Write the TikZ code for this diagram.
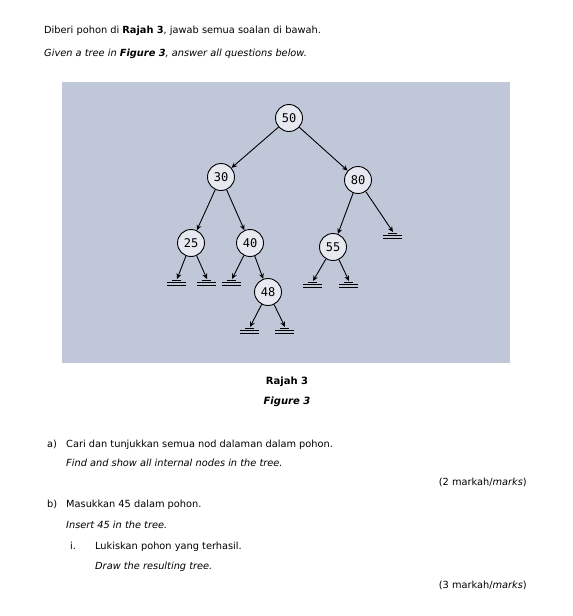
\documentclass[tikz,border=0pt]{standalone}
\usepackage{fontspec}
\setmainfont{DejaVu Sans}
\newfontfamily\numfont{DejaVu Sans Mono}
\usetikzlibrary{arrows.meta}
\definecolor{panel}{RGB}{192,199,216}
\definecolor{nodefill}{RGB}{230,233,240}
\tikzset{
  tnode/.style={circle,draw=black,fill=nodefill,line width=0.9pt,minimum size=27pt,inner sep=0pt,font=\numfont\fontsize{12}{12}\selectfont},
  edge/.style={line width=0.9pt,-{Stealth[length=5.5pt,width=5pt]}},
  txt/.style={anchor=base west,inner sep=0pt,font=\fontsize{9.8}{11}\selectfont},
  rtxt/.style={anchor=base east,inner sep=0pt,font=\fontsize{9.8}{11}\selectfont},
  ctxt/.style={anchor=base,inner sep=0pt,font=\fontsize{10}{11}\selectfont},
}
\newcommand{\groundsym}[1]{%
  \draw[line width=1pt] ([xshift=-5pt,yshift=-1pt]#1) -- ([xshift=4pt,yshift=-1pt]#1);
  \draw[line width=1pt] ([xshift=-10pt,yshift=-3.5pt]#1) -- ([xshift=9pt,yshift=-3.5pt]#1);
  \draw[line width=1pt] ([xshift=-10pt,yshift=-6pt]#1) -- ([xshift=9pt,yshift=-6pt]#1);}
\begin{document}
\begin{tikzpicture}[x=1pt,y=-1pt]
\useasboundingbox (0,0) rectangle (573,616);
\fill[white] (0,0) rectangle (573,616);
% header
\node[txt] (h1) at (44,33) {Diberi pohon di \textbf{Rajah 3}, jawab semua soalan di bawah.};
\node[txt] (h2) at (44,56) {\textit{Given a tree in \textbf{Figure 3}, answer all questions below.}};
% panel
\fill[panel] (62,82) rectangle (510,363);
% nodes
\node[tnode] (n50) at (289,118) {50};
\node[tnode] (n30) at (221,177) {30};
\node[tnode] (n80) at (358,180) {80};
\node[tnode] (n25) at (191,243) {25};
\node[tnode] (n40) at (250,243) {40};
\node[tnode] (n55) at (333,247) {55};
\node[tnode] (n48) at (268,292) {48};
% leaf coordinates
\coordinate (l25a) at (177,279);
\coordinate (l25b) at (207,279);
\coordinate (l40a) at (232,279);
\coordinate (l48a) at (250,327);
\coordinate (l48b) at (285,327);
\coordinate (l55a) at (313,281);
\coordinate (l55b) at (349,281);
\coordinate (l80b) at (393,232);
% edges
\draw[edge] (n50) -- (n30);
\draw[edge] (n50) -- (n80);
\draw[edge] (n30) -- (n25);
\draw[edge] (n30) -- (n40);
\draw[edge] (n80) -- (n55);
\draw[edge] (n80) -- (l80b);
\draw[edge] (n25) -- (l25a);
\draw[edge] (n25) -- (l25b);
\draw[edge] (n40) -- (l40a);
\draw[edge] (n40) -- (n48);
\draw[edge] (n48) -- (l48a);
\draw[edge] (n48) -- (l48b);
\draw[edge] (n55) -- (l55a);
\draw[edge] (n55) -- (l55b);
\groundsym{l25a}\groundsym{l25b}\groundsym{l40a}\groundsym{l48a}
\groundsym{l48b}\groundsym{l55a}\groundsym{l55b}\groundsym{l80b}
% caption
\node[ctxt] (cap1) at (287,384) {\textbf{Rajah 3}};
\node[ctxt] (cap2) at (287,404) {\textbf{\textit{Figure 3}}};
% questions
\node[txt] (qa) at (47,447) {a)};
\node[txt] (qa1) at (66,447) {Cari dan tunjukkan semua nod dalaman dalam pohon.};
\node[txt] (qa2) at (66,466) {\textit{Find and show all internal nodes in the tree.}};
\node[rtxt] (ma) at (527,485) {(2 markah/\textit{marks})};
\node[txt] (qb) at (47,507) {b)};
\node[txt] (qb1) at (66,507) {Masukkan 45 dalam pohon.};
\node[txt] (qb2) at (66,528) {\textit{Insert 45 in the tree.}};
\node[txt] (qi) at (70,549) {i.};
\node[txt] (qi1) at (95,549) {Lukiskan pohon yang terhasil.};
\node[txt] (qi2) at (95,569) {\textit{Draw the resulting tree.}};
\node[rtxt] (mb) at (527,588) {(3 markah/\textit{marks})};
\end{tikzpicture}
\end{document}
